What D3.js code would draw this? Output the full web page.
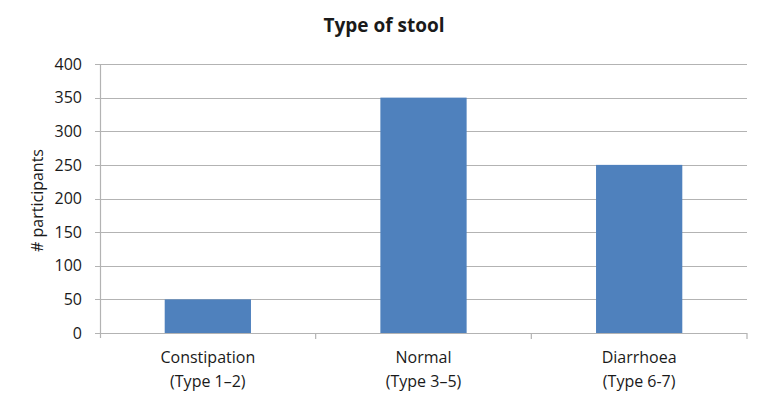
<!DOCTYPE html>
<html>
<head>
<meta charset="utf-8">
<script src="https://cdn.jsdelivr.net/npm/d3@7"></script>
<style>
  body { margin: 0; background: #fff; }
  svg text { font-family: "Open Sans", Lato, sans-serif; fill: #1a1a1a; }
</style>
</head>
<body>
<svg id="chart"></svg>
<script>
// chart data
const categories = ["Constipation\n(Type 1–2)", "Normal\n(Type 3–5)", "Diarrhoea\n(Type 6-7)"];
const participants = [50, 350, 250];
const yTicks = [0, 50, 100, 150, 200, 250, 300, 350, 400];

const config = {
  width: 768, height: 407,
  margin: { top: 64, right: 21, bottom: 74, left: 100 }
};

const width = config.width - config.margin.left - config.margin.right;
const height = config.height - config.margin.top - config.margin.bottom;

const svg = d3.select('#chart')
    .attr('width', config.width)
    .attr('height', config.height);

const chart = svg.append('g')
    .attr('transform', `translate(${config.margin.left},${config.margin.top})`);

const xScale = d3.scaleBand()
    .domain(categories)
    .range([0, width])
    .paddingInner(0.6)
    .paddingOuter(0.3);

// band including padding, used for the category tick separators
const bandStep = width / categories.length;

const yScale = d3.scaleLinear()
    .domain([0, 400])
    .range([height, 0]);

// gridlines
chart.append('g')
  .selectAll('line')
  .data(yTicks)
  .join('line')
    .attr('x1', -5)
    .attr('x2', width)
    .attr('y1', d => Math.round(yScale(d)) + 0.5)
    .attr('y2', d => Math.round(yScale(d)) + 0.5)
    .attr('stroke', '#b3b3b3')
    .attr('stroke-width', 1.2);

// y axis
const yAxis = d3.axisLeft(yScale).tickValues(yTicks).tickSize(0).tickPadding(18);
const yAxisG = chart.append('g').call(yAxis);
yAxisG.select('.domain').remove();
yAxisG.selectAll('text')
    .style('font-size', '16px')
    .attr('fill', '#1a1a1a');

chart.append('line')
    .attr('x1', 0.5).attr('x2', 0.5)
    .attr('y1', 0).attr('y2', height + 5)
    .attr('stroke', '#b3b3b3')
    .attr('stroke-width', 1.2);

// category separators on x axis
chart.append('g')
  .selectAll('line')
  .data(d3.range(1, categories.length + 1))
  .join('line')
    .attr('x1', d => d * bandStep)
    .attr('x2', d => d * bandStep)
    .attr('y1', height)
    .attr('y2', height + 6)
    .attr('stroke', '#b3b3b3')
    .attr('stroke-width', 1.2);

// bars
chart.selectAll('.bar')
  .data(participants)
  .join('rect')
    .attr('class', 'bar')
    .attr('x', (d, i) => xScale(categories[i]))
    .attr('y', d => yScale(d))
    .attr('width', xScale.bandwidth())
    .attr('height', d => height - yScale(d))
    .attr('fill', '#4f81bd');

// category labels (two lines)
const labels = chart.append('g')
  .selectAll('text')
  .data(categories)
  .join('text')
    .attr('x', d => xScale(d) + xScale.bandwidth() / 2)
    .attr('y', height + 30)
    .attr('text-anchor', 'middle')
    .style('font-size', '16px');

labels.selectAll('tspan')
  .data(d => d.split('\n'))
  .join('tspan')
    .attr('x', function() { return d3.select(this.parentNode).attr('x'); })
    .attr('dy', (d, i) => i === 0 ? 0 : 24)
    .text(d => d);

// y axis label
svg.append('text')
    .attr('transform', `translate(43,${config.margin.top + height / 2 + 2}) rotate(-90)`)
    .attr('text-anchor', 'middle')
    .style('font-size', '16px')
    .text('# participants');

// title
svg.append('text')
    .attr('x', 384)
    .attr('y', 32)
    .attr('text-anchor', 'middle')
    .style('font-size', '19px')
    .style('font-weight', 'bold')
    .text('Type of stool');
</script>
</body>
</html>
